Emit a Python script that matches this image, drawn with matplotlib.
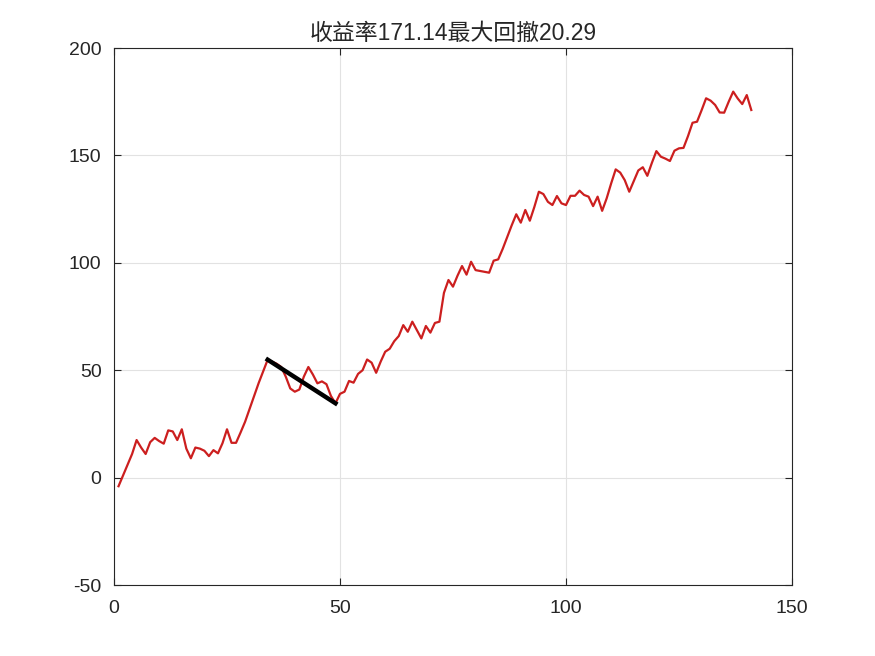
import matplotlib.pyplot as plt

# equity curve (x = 1..141)
equity = [
    -4, 1, 6, 11, 17.5, 14, 11, 16.5, 18.5, 17,
    15.8, 22, 21.5, 17.5, 22.5, 13.5, 9, 14, 13.5, 12.5,
    10, 12.8, 11.3, 16, 22.5, 16.2, 16.2, 21, 26, 32,
    38, 44, 49.5, 54.9, 54, 53, 51.5, 47, 41.5, 40,
    41, 47, 51.5, 48, 43.9, 44.8, 43.5, 38, 34.6, 39,
    40, 45, 44.2, 48.3, 50, 55, 53.5, 48.8, 54, 58.6,
    60, 63.5, 65.9, 71, 67.9, 72.6, 68.7, 64.8, 70.6, 67.5,
    72, 72.6, 86, 92, 88.9, 94, 98.5, 94.5, 100.5, 96.6,
    96.2, 95.8, 95.4, 101, 101.6, 106.5, 112, 117.5, 122.6, 118.7,
    124.6, 119.6, 126, 133.1, 132, 128.4, 126.9, 131.1, 127.7, 126.9,
    131.2, 131.2, 133.6, 131.6, 130.8, 126.4, 130.8, 124.2, 130, 137,
    143.5, 142, 138.5, 133.1, 138, 143, 144.5, 140.5, 146.5, 152,
    149.4, 148.5, 147.4, 152.2, 153.3, 153.5, 159, 165.2, 165.7, 171,
    176.6, 175.5, 173.5, 170, 169.9, 175, 179.7, 176.5, 173.9, 178.1,
    171.14,
]
days = list(range(1, len(equity) + 1))

# max drawdown: peak and trough positions (1-based)
dd_peak = 34
dd_trough = 49

title_text = '收益率171.14最大回撤20.29'
xticks = [0, 50, 100, 150]
yticks = [-50, 0, 50, 100, 150, 200]

plt.rcParams['font.family'] = ['Liberation Sans', 'Noto Sans CJK SC', 'DejaVu Sans']
plt.rcParams['axes.unicode_minus'] = False

fig = plt.figure(figsize=(8.75, 6.56), dpi=100)
ax = fig.add_axes([0.1303, 0.1082, 0.7748, 0.8186])

ax.plot(days, equity, color='#cc1f1f', linewidth=1.6)
ax.plot([days[dd_peak - 1], days[dd_trough - 1]],
        [equity[dd_peak - 1], equity[dd_trough - 1]],
        color='black', linewidth=3.2)

ax.set_xlim(0, 150)
ax.set_ylim(-50, 200)
ax.set_xticks(xticks)
ax.set_yticks(yticks)
ax.grid(True, color='#e2e2e2', linewidth=0.8)
ax.set_axisbelow(True)

ax.tick_params(direction='in', length=5, width=0.8, labelsize=14,
               colors='#262626', top=True, right=True)
ax.tick_params(axis='y', pad=9)
ax.tick_params(axis='x', pad=11)
for s in ax.spines.values():
    s.set_color('#262626')
    s.set_linewidth(0.8)

ax.set_title(title_text, fontsize=16.5, color='#262626', pad=6)

fig.savefig('out.png', dpi=100, facecolor='white')
